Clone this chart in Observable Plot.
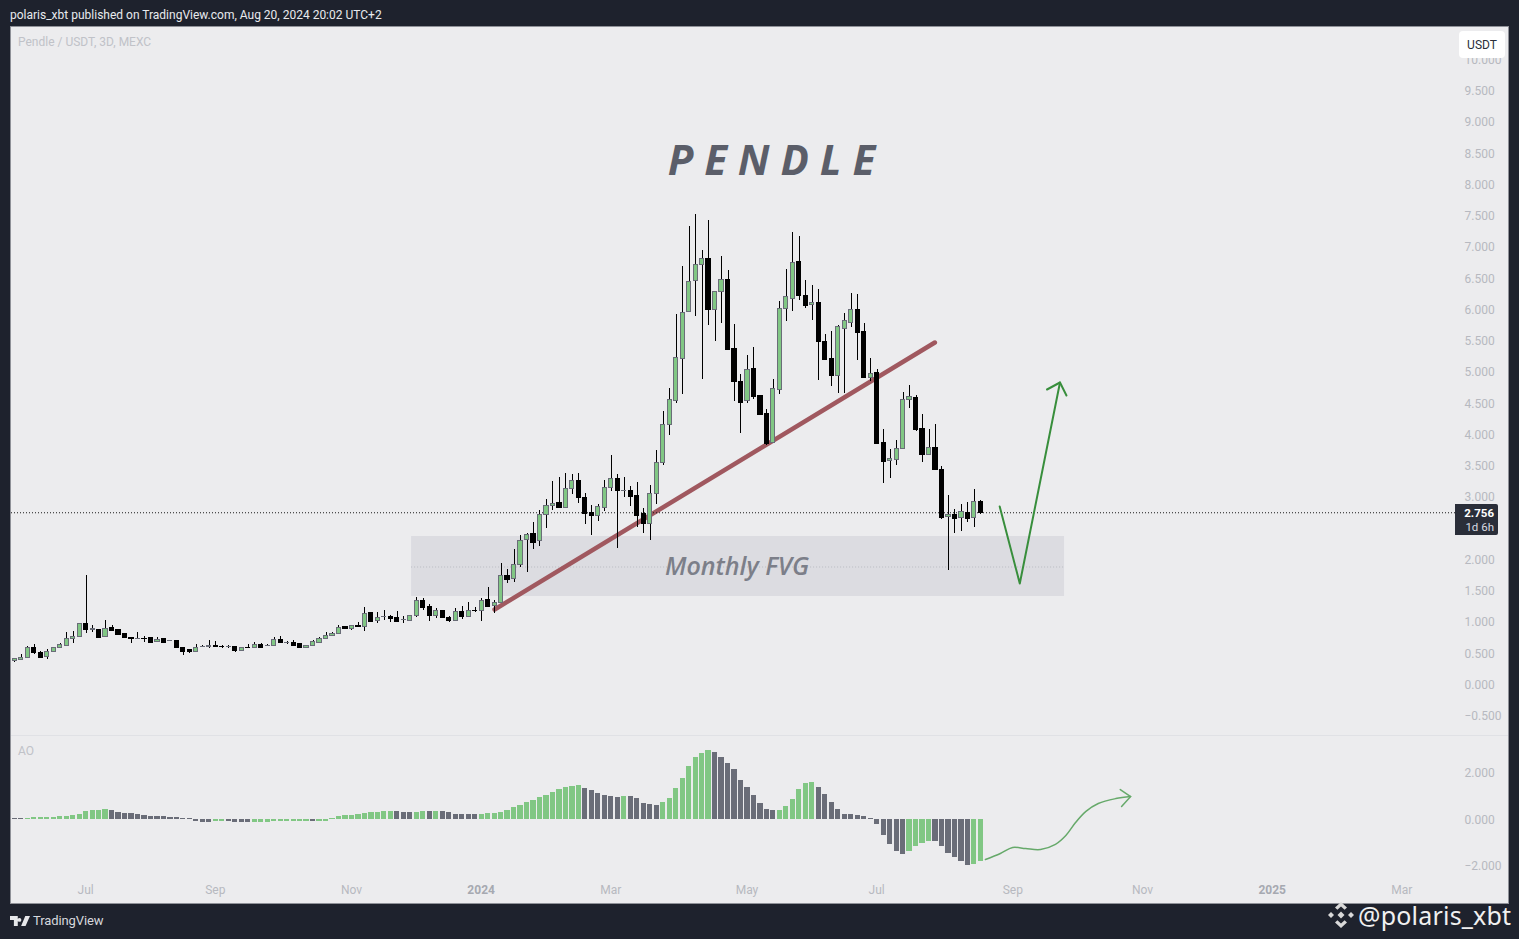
<!DOCTYPE html>
<html>
<head>
<meta charset="utf-8">
<script src="https://cdn.jsdelivr.net/npm/d3@7"></script>
<script src="https://cdn.jsdelivr.net/npm/@observablehq/plot@0.6"></script>
<style>
html,body{margin:0;padding:0;background:#1e222d;overflow:hidden}
#page{position:relative;width:1519px;height:939px;background:#1e222d;overflow:hidden;font-family:Roboto,sans-serif}
#pane{position:absolute;left:10px;top:26px;width:1497px;height:876px;background:#ececee;border:1px solid #8f9198}
.abs{position:absolute;white-space:nowrap}
#main,#ao{position:absolute;left:11px}
#main{top:27px}
#ao{top:736px}
#sep{position:absolute;left:11px;top:735px;width:1497px;height:1px;background:#e0e1e5}
</style>
</head>
<body>
<div id="page">
  <div id="pane"></div>
  <div id="main"></div>
  <div id="ao"></div>
  <div id="sep"></div>
  <div class="abs" style="left:10px;top:7px;font-size:12px;font-weight:400;color:#e8eaee;line-height:16px">polaris_xbt published on TradingView.com, Aug 20, 2024 20:02 UTC+2</div>
  <div class="abs" style="left:18px;top:34px;font-size:12px;color:#c0c2c8;line-height:16px">Pendle / USDT, 3D, MEXC</div>
  <div class="abs" style="left:18px;top:743px;font-size:12px;color:#c0c2c8;line-height:16px">AO</div>
  <div class="abs" style="left:1459px;top:31px;width:46px;height:27px;background:#fff;border-radius:4px;text-align:center;font-size:12px;line-height:28px;color:#2a2e39">USDT</div>
  <div class="abs" id="lastBox" style="left:1455px;top:504px;width:43px;height:31px;background:#2a2e39;border-radius:0 2px 2px 0;text-align:right;color:#fff;font-size:11.5px;line-height:14px;padding-top:2px;box-sizing:border-box">
    <div id="lastTxt" style="padding-right:4px;font-weight:700"></div>
    <div style="padding-right:4px;color:#d8dae0">1d 6h</div>
  </div>
  <svg class="abs" style="left:10px;top:915px" width="20" height="12" viewBox="0 0 36 20">
    <path fill="#e6e7ea" d="M14 19H7V8H0V1h14zM28 19h-8L27.5 1H36zM20.5 8a3.5 3.5 0 1 1-7 0 3.5 3.5 0 0 1 7 0z"/>
  </svg>
  <div class="abs" style="left:33px;top:913px;font-size:13px;color:#d6d8dd;line-height:16px;letter-spacing:-.1px">TradingView</div>
  <svg class="abs" style="left:1327px;top:902px" width="28" height="26" viewBox="0 0 28 26">
    <g fill="#d9d9d9">
      <polygon points="14,0 20,5.5 17.6,7.8 14,4.6 10.4,7.8 8,5.5"/>
      <polygon points="14,26 20,20.5 17.6,18.2 14,21.4 10.4,18.2 8,20.5"/>
      <polygon points="4,10 7,13 4,16 1,13"/>
      <polygon points="24,10 27,13 24,16 21,13"/>
      <polygon points="14,9.5 17.5,13 14,16.5 10.5,13"/>
    </g>
  </svg>
  <div class="abs" style="left:1358px;top:899px;font-family:'Noto Sans',sans-serif;font-size:25px;color:#f0f0f0;line-height:32px;letter-spacing:.2px">@polaris_xbt</div>
</div>
<script>
// Candles, one every 3 days, counted from the first bar on the chart
const opens = [.38,.40,.43,.595,.515,.445,.525,.59,.63,.73,.765,.98,.88,.88,.765,.905,.88,.81,.755,.735,.74,.745,.685,.73,.70,.71,.595,.56,.525,.605,
.605,.63,.615,.605,.61,.54,.595,.59,.648,.62,.62,.72,.67,.68,.65,.60,.62,.67,.735,.78,.815,.935,.895,.945,.925,1.145,1.02,1.085,1.095,1.08,
1.04,1.03,1.10,1.345,1.255,1.11,1.19,1.08,1.03,1.175,1.095,1.19,1.18,1.36,1.26,1.315,1.75,1.70,1.92,2.315,2.41,2.30,2.72,2.86,2.905,2.83,3.13,3.27,3.0,2.745,
2.70,2.83,3.15,3.30,3.10,3.11,3.03,2.74,2.575,3.055,3.56,4.155,4.54,5.22,5.97,6.46,6.717,6.824,6.003,6.285,6.488,5.379,4.856,4.541,5.053,4.632,4.344,3.87,4.717,6.013,
6.179,6.776,6.232,6.083,6.12,5.496,5.224,4.952,5.704,5.80,6.008,5.656,4.92,5.0,3.88,3.592,3.608,3.773,4.557,4.6,4.104,3.677,3.80,3.448,2.685,2.728,2.669,2.755,2.669,2.931];
const highs = [.42,.49,.61,.65,.53,.57,.60,.66,.84,.86,.98,1.75,.95,.88,1.04,.96,.88,.81,.755,.84,.77,.745,.755,.73,.71,.72,.595,.57,.65,.64,
.71,.70,.64,.64,.61,.605,.65,.68,.66,.65,.76,.775,.70,.71,.65,.64,.72,.76,.835,.84,.96,.935,.96,1.0,1.24,1.16,1.16,1.19,1.11,1.17,
1.095,1.105,1.395,1.38,1.29,1.22,1.19,1.095,1.225,1.255,1.32,1.24,1.38,1.56,1.35,1.94,1.85,2.17,2.39,2.42,2.60,2.80,2.97,3.25,3.32,3.385,3.37,3.385,3.065,2.87,
2.89,3.27,3.67,3.37,3.32,3.175,3.24,2.825,3.19,3.75,4.38,4.745,5.93,6.70,7.336,7.528,6.952,7.432,6.291,6.856,6.632,5.768,4.968,5.272,5.40,4.632,4.408,4.888,6.136,6.648,
7.24,7.176,6.472,6.392,6.328,5.608,5.656,5.752,5.944,6.264,6.248,5.784,5.224,5.048,4.088,3.768,3.912,4.68,4.792,4.632,4.328,4.088,4.168,3.496,3.032,2.808,2.888,2.92,3.128,2.952];
const lows = [.36,.40,.43,.49,.44,.41,.525,.59,.62,.67,.765,.83,.84,.75,.765,.86,.80,.75,.67,.73,.685,.68,.685,.68,.70,.585,.47,.505,.525,.60,
.585,.60,.58,.585,.52,.54,.585,.59,.60,.62,.62,.67,.65,.63,.585,.60,.62,.67,.735,.78,.815,.89,.87,.935,.855,1.0,.985,1.03,1.0,1.015,
.985,1.03,1.08,1.19,1.015,1.065,1.065,1.0,1.03,1.05,1.08,1.16,1.015,1.255,1.145,1.315,1.62,1.645,1.885,1.805,2.17,2.215,2.50,2.79,2.825,2.83,3.05,2.905,2.57,2.39,
2.62,2.775,3.10,2.18,3.0,2.855,2.52,2.42,2.31,2.89,3.51,3.99,4.51,4.65,5.97,5.896,4.888,5.752,5.496,5.784,5.352,4.536,4.024,4.504,4.568,4.328,3.832,3.87,4.648,5.816,
5.976,6.152,6.03,5.832,4.872,5.192,4.776,4.664,4.664,5.72,5.192,4.92,4.856,3.848,3.224,3.304,3.512,3.773,4.424,4.056,3.56,3.677,3.432,2.648,1.832,2.424,2.456,2.60,2.52,2.728];
const closes = [.41,.44,.595,.51,.44,.53,.595,.64,.74,.77,.98,.88,.89,.75,.90,.87,.80,.75,.73,.74,.73,.68,.72,.68,.71,.585,.535,.525,.595,.615,
.63,.605,.605,.615,.54,.595,.585,.645,.60,.63,.72,.67,.68,.63,.60,.63,.69,.74,.785,.82,.915,.89,.945,.935,1.14,1.015,1.075,1.095,1.06,1.015,
1.045,1.105,1.345,1.24,1.11,1.185,1.065,1.03,1.17,1.095,1.185,1.18,1.345,1.255,1.315,1.745,1.675,1.92,2.31,2.40,2.28,2.72,2.87,2.90,2.825,3.14,3.265,2.985,2.73,2.70,
2.85,3.155,3.30,3.10,3.11,3.015,2.71,2.57,3.06,3.555,4.16,4.56,5.235,5.955,6.45,6.723,6.819,6.008,6.291,6.483,5.368,4.845,4.52,5.048,4.616,4.328,3.864,4.744,6.019,6.211,
6.755,6.221,6.072,6.115,5.496,5.208,4.952,5.736,5.832,6.008,5.64,4.92,4.979,3.864,3.576,3.624,3.779,4.563,4.611,4.088,3.688,3.795,3.448,2.68,2.728,2.664,2.771,2.664,2.931,2.756];
const aoValues = [.07,.07,.07,.115,.115,.115,.115,.16,.16,.20,.245,.37,.415,.415,.46,.415,.33,.29,.29,.245,.20,.16,.16,.16,.115,.115,.07,.045,-.06,-.10,
-.10,-.06,-.06,-.06,-.10,-.10,-.10,-.10,-.10,-.10,-.06,-.06,-.06,-.06,-.06,-.045,-.045,-.045,-.045,.07,.16,.20,.20,.245,.29,.33,.33,.37,.37,.37,
.33,.33,.33,.37,.37,.37,.37,.33,.245,.245,.245,.245,.245,.29,.29,.33,.415,.545,.63,.76,.845,.975,1.06,1.19,1.32,1.405,1.45,1.49,1.36,1.275,
1.145,1.06,1.02,.975,1.02,1.02,.93,.715,.675,.63,.76,.93,1.36,1.79,2.31,2.695,2.87,3.0,2.91,2.695,2.44,2.18,1.705,1.405,1.06,.715,.46,.415,.415,.59,
.89,1.32,1.575,1.62,1.405,1.105,.76,.46,.245,.245,.20,.16,.07,-.185,-.66,-1.05,-1.35,-1.48,-1.35,-1.13,-1.0,-.92,-.92,-1.13,-1.43,-1.605,-1.78,-1.95,-1.91,-1.78];
const aoRising = [0,0,1,1,1,1,1,1,1,1,1,1,1,1,1,0,0,0,0,0,0,0,0,0,0,0,0,0,0,0,
0,1,1,0,0,0,0,1,1,1,1,1,1,1,1,1,0,1,1,1,1,1,1,1,1,1,1,1,1,0,
0,0,1,1,0,1,0,0,0,0,0,0,1,1,1,1,1,1,1,1,1,1,1,1,1,1,1,1,0,0,
0,0,0,0,1,0,0,0,0,0,1,1,1,1,1,1,1,1,0,0,0,0,0,0,0,0,0,0,1,1,
1,1,1,1,0,0,0,0,0,0,0,0,0,0,0,0,0,0,1,1,1,1,0,0,0,0,0,0,1,1];

// Axis labels: bar number of each time label, price ticks, indicator ticks
const monthTicks = [[11,"Jul"],[31,"Sep"],[52,"Nov"],[92,"Mar"],[113,"May"],[133,"Jul"],[154,"Sep"],[174,"Nov"],[214,"Mar"]];
const yearTicks = [[72,"2024"],[194,"2025"]];
const priceTicks = d3.range(-0.5,10.01,0.5);
const aoTicks = [-2,0,2];
const lastPrice = 2.756;

// Drawings on the chart
const fvgZone = [{x1:61.2,x2:161.9,y1:1.416,y2:2.376}];
const fvgMid = [{x1:61.2,x2:161.9,y:1.888}];
const trendLine = [{x:74,y:1.208},{x:141.9,y:5.48}];
const bigArrow = [{x:151.9,y:2.856},{x:155,y:1.624},{x:161.2,y:4.84}];
const bigHead = [{x:159.2,y:4.728},{x:161.2,y:4.84},{x:162.2,y:4.632}];
const aoCurve = [[149.7,-1.70],[152,-1.44],[153.9,-1.18],[155.9,-1.23],[158.2,-1.27],[160.5,-1.05],[162.1,-.67],[163.6,-.11],[165.2,.37],[167.1,.71],[169.8,.92],[172.1,1.01]];
const aoHead = [[170.5,1.31],[172.1,1.01],[170.7,.58]];

const bars = opens.map((o,i)=>({i,open:o,high:highs[i],low:lows[i],close:closes[i],up:closes[i]>=o}));
const ao = aoValues.map((v,i)=>({i,v,rising:aoRising[i]===1}));

const GREEN="#81c784", EDGE="#6a6d78", HALF=0.32;
const xDomain=[-0.509,222.2];
const LABEL="#b7b9c0";

const main = Plot.plot({
  width:1497,height:708,marginTop:0,marginBottom:0,marginLeft:0,marginRight:53,
  style:{background:"transparent",fontFamily:"Roboto,sans-serif",fontSize:"12px",overflow:"visible"},
  x:{type:"linear",domain:xDomain,axis:null},
  y:{type:"linear",domain:[-0.808,10.52]},
  marks:[
    Plot.rect(fvgZone,{x1:"x1",x2:"x2",y1:"y1",y2:"y2",fill:"#dcdce1"}),
    Plot.ruleY(fvgMid,{x1:"x1",x2:"x2",y:"y",stroke:"#b9bbc1",strokeDasharray:"1 2"}),
    Plot.line(trendLine,{x:"x",y:"y",stroke:"#a0585f",strokeWidth:4.5}),
    Plot.ruleY([lastPrice],{stroke:"#1a1a1a",strokeDasharray:"1 2"}),
    Plot.ruleX(bars,{x:"i",y1:"low",y2:"high",stroke:"#000",strokeWidth:1,shapeRendering:"crispEdges"}),
    Plot.rect(bars,{x1:d=>d.i-HALF,x2:d=>d.i+HALF,y1:"open",y2:"close",fill:d=>d.up?GREEN:"#000",stroke:d=>d.up?EDGE:"#000",strokeWidth:1,shapeRendering:"crispEdges"}),
    Plot.line(bigArrow,{x:"x",y:"y",stroke:"#388e3c",strokeWidth:2}),
    Plot.line(bigHead,{x:"x",y:"y",stroke:"#388e3c",strokeWidth:2}),
    Plot.text(["P E N D L E"],{x:116.7,y:8.37,text:d=>d,fontFamily:"'Open Sans',sans-serif",fontWeight:700,fontStyle:"italic",fontSize:42,fill:"#5b5e69"}),
    Plot.text(["Monthly FVG"],{x:111.4,y:1.894,text:d=>d,fontFamily:"'Open Sans',sans-serif",fontWeight:600,fontStyle:"italic",fontSize:25,fill:"#7c7f89"}),
    Plot.axisY({anchor:"right",ticks:priceTicks,tickSize:0,tickPadding:9,label:null,tickFormat:d3.format(".3f"),color:LABEL})
  ]
});
document.getElementById("main").appendChild(main);

const aoPlot = Plot.plot({
  width:1497,height:167,marginTop:0,marginBottom:23,marginLeft:0,marginRight:53,
  style:{background:"transparent",fontFamily:"Roboto,sans-serif",fontSize:"12px",overflow:"visible"},
  x:{type:"linear",domain:xDomain},
  y:{type:"linear",domain:[-2.602,3.591]},
  marks:[
    Plot.rect(ao,{x1:d=>d.i-0.4,x2:d=>d.i+0.4,y1:0,y2:"v",fill:d=>d.rising?GREEN:EDGE,shapeRendering:"crispEdges"}),
    Plot.line(aoCurve,{x:d=>d[0],y:d=>d[1],curve:"catmull-rom",stroke:"#66a96a",strokeWidth:1.5}),
    Plot.line(aoHead,{x:d=>d[0],y:d=>d[1],stroke:"#66a96a",strokeWidth:1.5}),
    Plot.axisY({anchor:"right",ticks:aoTicks,tickSize:0,tickPadding:9,label:null,tickFormat:d3.format(".3f"),color:LABEL}),
    Plot.axisX({ticks:monthTicks.map(d=>d[0]),tickSize:0,tickPadding:5,dx:-0.5,label:null,tickFormat:i=>new Map(monthTicks).get(i),color:LABEL}),
    Plot.axisX({ticks:yearTicks.map(d=>d[0]),tickSize:0,tickPadding:5,dx:-0.5,label:null,tickFormat:i=>new Map(yearTicks).get(i),color:"#a6a9b1",fontWeight:700})
  ]
});
document.getElementById("ao").appendChild(aoPlot);
document.getElementById("lastTxt").textContent = d3.format(".3f")(lastPrice);
</script>
</body>
</html>
